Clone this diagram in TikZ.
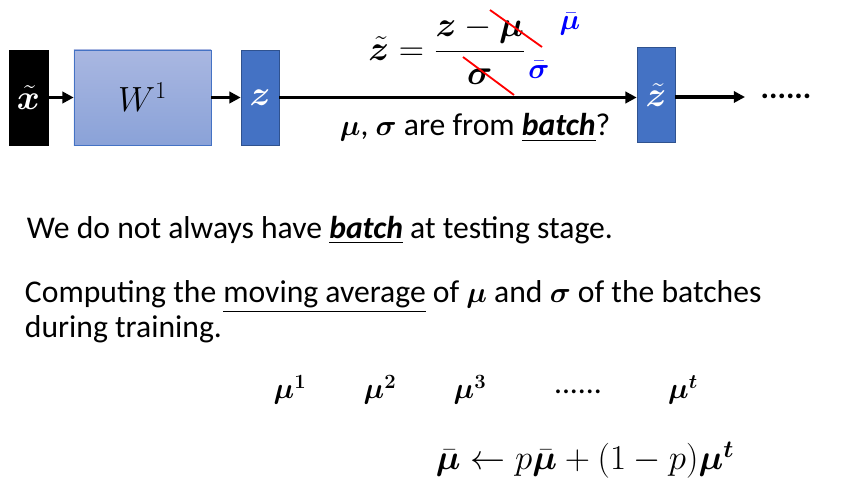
\documentclass[tikz,border=0pt]{standalone}
\usepackage{fontspec}
\setmainfont{Carlito}
\usepackage{amsmath,bm}
\usetikzlibrary{positioning,arrows.meta}
\definecolor{boxblue}{HTML}{4472C4}
\definecolor{boxedge}{HTML}{2F528F}
\definecolor{wtop}{HTML}{A9B7E1}
\definecolor{wbot}{HTML}{8AA2D8}
\begin{document}
\begin{tikzpicture}[x=0.025cm, y=-0.025cm,
    every node/.style={font=\fontsize{22.5}{27}\selectfont},
    flow/.style={line width=2.2pt, -{Triangle[length=8pt,width=8pt]}},
    layer/.style={draw=boxedge, fill=boxblue, text=white, minimum width=0.95cm, minimum height=2.375cm, inner sep=0pt, font=\fontsize{26}{30}\selectfont},
    strike/.style={red, line width=1.3pt}]
  \useasboundingbox (0,0) rectangle (861,492);

  % network
  \node[layer, fill=black, draw=black, minimum width=0.975cm] (xt) at (28.5,97.5) {$\tilde{\bm{x}}$};
  \node[draw=boxblue, top color=wtop, bottom color=wbot, minimum width=3.425cm, minimum height=2.375cm, inner sep=0pt, font=\fontsize{24}{28}\selectfont] (w) at (142.5,97.5) {$W^1$};
  \node[layer] (z) at (260,97.5) {$\bm{z}$};
  \node[layer] (zt) at (656,95) {$\tilde{\bm{z}}$};
  \coordinate (out) at (745,97);
  \node (more) at (786,96) {\textbf{......}};
  \draw[flow] (xt) -- (w);
  \draw[flow] (w) -- (z);
  \draw[flow] (z.east) -- (z.east -| zt.west);
  \draw[flow] (zt.east |- out) -- (out);

  % normalization
  \node[font=\fontsize{24}{28}\selectfont, inner sep=0pt] (norm) at (447,50) {$\tilde{\bm{z}} = \dfrac{\bm{z} - \bm{\mu}}{\bm{\sigma}}$};
  \draw[strike] (490,10) -- (542,47);
  \draw[strike] (463,57) -- (514,95);
  \node[text=blue, inner sep=0pt] (mubar) at (570,24) {$\bar{\bm{\mu}}$};
  \node[text=blue, inner sep=0pt] (sigbar) at (539,70) {$\bar{\bm{\sigma}}$};
  \node[anchor=base west] (ask) at (335,136) {$\bm{\mu}$, $\bm{\sigma}$ are from \underline{\textbf{\textit{batch}}}?};

  % testing
  \node[anchor=base west] (test) at (22,238) {We do not always have \underline{\textbf{\textit{batch}}} at testing stage.};
  \node[anchor=base west] (avg) at (20,302) {Computing the \underline{moving average} of $\bm{\mu}$ and $\bm{\sigma}$ of the batches};
  \node[anchor=base west] (avg2) at (20,337) {during training.};

  % moving average
  \node (mu1) at (290,390) {$\bm{\mu}^{\bm{1}}$};
  \node (mu2) at (380,390) {$\bm{\mu}^{\bm{2}}$};
  \node (mu3) at (470,390) {$\bm{\mu}^{\bm{3}}$};
  \node (mudots) at (578,392) {......};
  \node (mut) at (683,390) {$\bm{\mu}^{\bm{t}}$};
  \node[font=\fontsize{25}{30}\selectfont, inner sep=0pt] (upd) at (585,460) {$\bar{\bm{\mu}} \leftarrow p\bar{\bm{\mu}} + (1-p)\bm{\mu}^{\bm{t}}$};
\end{tikzpicture}
\end{document}
